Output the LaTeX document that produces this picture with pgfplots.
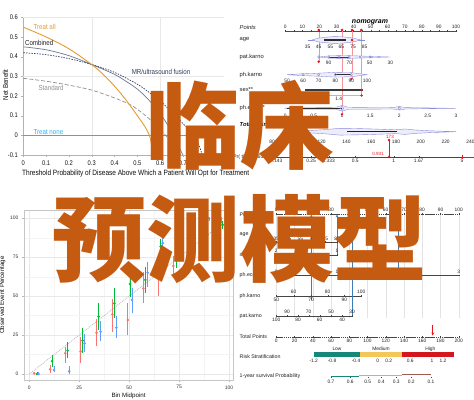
\documentclass[border=0pt]{standalone}
\usepackage{pgfplots}
\pgfplotsset{compat=1.18}
\usepackage{fontspec}
\setmainfont{Liberation Sans}
\newfontfamily\cond{Liberation Sans}[FakeStretch=0.85]
\newfontfamily\cjk{Noto Sans CJK SC}
\usetikzlibrary{arrows.meta}
\definecolor{tall}{HTML}{E39B2D}
\definecolor{comb}{HTML}{6B7894}
\definecolor{mrf}{HTML}{2E3C5E}
\definecolor{stdc}{HTML}{8F8F8F}
\definecolor{tnone}{HTML}{33B0E6}
\definecolor{cr}{HTML}{F8766D}
\definecolor{cg}{HTML}{00BA38}
\definecolor{cb}{HTML}{619CFF}
\definecolor{big}{HTML}{C55A11}
\definecolor{vio}{HTML}{8A8AD6}
\definecolor{viof}{HTML}{ECECFA}
\definecolor{redn}{HTML}{E8141E}
\definecolor{steel}{HTML}{3D7DB8}
\definecolor{rteal}{HTML}{17877A}
\definecolor{ryel}{HTML}{F3C75A}
\definecolor{rred}{HTML}{D4161E}
\definecolor{sbrown}{HTML}{9E5B50}
\begin{document}
\begin{tikzpicture}[x=1bp,y=1bp]
\path[use as bounding box] (0,0) rectangle (474,399);
% ---------------- Panel 1: decision curve ----------------
\begin{axis}[
  at={(23.3bp,244bp)}, anchor=south west, scale only axis,
  width=200.7bp, height=137.7bp,
  xmin=0, xmax=0.88, ymin=-0.1, ymax=0.6,
  axis lines=left, axis line style={gray!60,-},
  xtick={0,0.1,0.2,0.3,0.4,0.5,0.6,0.7,0.8},
  xticklabels={0,0.1,0.2,0.3,0.4,0.5,0.6,0.7,0.8},
  ytick={-0.1,0,0.1,0.2,0.3,0.4,0.5,0.6},
  yticklabels={-0.1,0,0.1,0.2,0.3,0.4,0.5,0.6},
  extra x ticks={0.3,0.6}, extra x tick labels={},
  extra y ticks={0.3,0.6}, extra y tick labels={},
  extra tick style={grid=major, major grid style={gray!18}, major tick length=0pt},
  tick style={gray!60}, major tick length=2bp, tick align=outside,
  ticklabel style={font=\cond\fontsize{6.8}{7}\selectfont, text=gray!15!black},
  clip=false,
]
\addplot[tnone, line width=0.9bp] coordinates {(0,0)(0.88,0)};
\addplot[stdc, line width=0.7bp, dash pattern=on 4bp off 2bp, smooth] coordinates {(0,0.29)(0.1,0.275)(0.2,0.255)(0.3,0.23)(0.4,0.19)(0.47,0.155)(0.52,0.115)(0.57,0.065)(0.62,0.005)(0.66,-0.05)(0.69,-0.1)};
\addplot[comb, line width=0.7bp, smooth] coordinates {(0,0.45)(0.1,0.435)(0.2,0.405)(0.3,0.36)(0.4,0.31)(0.45,0.275)(0.5,0.235)(0.55,0.18)(0.6,0.11)(0.64,0.04)(0.67,-0.03)(0.70,-0.1)};
\addplot[mrf, line width=0.7bp, dash pattern=on 1.5bp off 1.2bp, smooth] coordinates {(0,0.42)(0.1,0.41)(0.2,0.39)(0.3,0.36)(0.4,0.32)(0.5,0.26)(0.55,0.22)(0.6,0.175)(0.65,0.12)(0.7,0.06)(0.75,0.0)(0.77,-0.05)(0.785,-0.1)};
\addplot[tall, line width=0.9bp, smooth] coordinates {(0,0.55)(0.1,0.5)(0.2,0.44)(0.3,0.36)(0.35,0.31)(0.4,0.25)(0.45,0.18)(0.5,0.10)(0.53,0.05)(0.553,0)(0.563,-0.05)(0.57,-0.1)};
\node[anchor=west, font=\cond\fontsize{7.3}{8}\selectfont, text=tall, inner sep=0] at (axis cs:0.044,0.553) {Treat all};
\node[anchor=west, font=\cond\fontsize{7.3}{8}\selectfont, text=gray!25!black, inner sep=0] at (axis cs:0.007,0.468) {Combined};
\node[anchor=west, font=\cond\fontsize{7.3}{8}\selectfont, text=mrf, inner sep=0] at (axis cs:0.475,0.324) {MR/ultrasound fusion};
\node[anchor=west, font=\cond\fontsize{7.3}{8}\selectfont, text=stdc, inner sep=0] at (axis cs:0.066,0.243) {Standard};
\node[anchor=west, font=\cond\fontsize{7.3}{8}\selectfont, text=tnone, inner sep=0] at (axis cs:0.044,0.019) {Treat none};
\end{axis}
\node[anchor=west, font=\cond\fontsize{7.7}{8}\selectfont, text=gray!10!black, inner sep=0] at (22,225.7) {Threshold Probability of Disease Above Which a Patient Will Opt for Treatment};
\node[rotate=90, font=\cond\fontsize{7.3}{8}\selectfont, text=gray!10!black, inner sep=0] at (5.5,314) {Net Benefit};
% ---------------- Panel 3: calibration ----------------
\begin{axis}[
  at={(24bp,19bp)}, anchor=south west, scale only axis,
  width=209bp, height=170bp,
  xmin=-2.65, xmax=102, ymin=-3.85, ymax=105.3,
  xtick={0,25,50,75,100}, ytick={0,25,50,75,100},
  minor xtick={12.5,37.5,62.5,87.5}, minor ytick={12.5,37.5,62.5,87.5},
  grid=both, major grid style={gray!18, line width=0.4bp}, minor grid style={gray!9, line width=0.3bp},
  axis line style={gray!45}, tick style={gray!55}, major tick length=2bp, minor tick length=0pt,
  tick align=outside, tick pos=left,
  /pgf/number format/assume math mode=true,
  ticklabel style={font=\fontsize{5}{6}\selectfont, text=gray!40!black},
  xlabel={Bin Midpoint}, ylabel={Observed Event Percentage},
  label style={font=\fontsize{6.2}{7}\selectfont, text=gray!10!black},
  xlabel style={yshift=3bp}, ylabel style={yshift=-2bp},
]
\addplot[gray!50, densely dotted, line width=0.9bp] coordinates {(0,0)(100,100)};
\addplot[only marks, mark=*, mark size=1.1bp, cr, error bars/.cd, y dir=both, y explicit, error bar style={line width=0.6bp, cr}, error mark=none]
 table[x=x, y=y, y error plus=ep, y error minus=em] {
x y ep em
2.4 0.4 1.1 0.4
10.4 3 2.5 2.5
18 13.3 4.2 6
25.7 14.5 9.5 7.5
33.7 26.5 8.5 8.5
41.6 38.3 9.7 11.3
49.3 34.7 10.9 9.7
57.1 55 10.7 9.6
64.8 60.8 8.2 10.8
72.1 69.4 6.6 7.4
80.5 88 5 6
88 91.4 3.6 5.4
96 100 0 3
};
\addplot[only marks, mark=*, mark size=1.1bp, cg, error bars/.cd, y dir=both, y explicit, error bar style={line width=0.6bp, cg}, error mark=none]
 table[x=x, y=y, y error plus=ep, y error minus=em] {
x y ep em
3.9 0 1 0
11.4 8.3 3.9 4
19.2 15 5.7 5
26.7 21.4 7.9 8.1
34.7 36.8 9 8.5
42.6 45.4 9.6 9.6
50.4 57.8 6.9 8.1
58.1 60.4 8.5 8.6
65.8 81.8 5.2 6.8
73.5 74.3 4.7 6.3
89.1 89.3 3.2 4.3
96.8 95.7 2.3 2.7
};
\addplot[only marks, mark=*, mark size=1.1bp, cb, error bars/.cd, y dir=both, y explicit, error bar style={line width=0.6bp, cb}, error mark=none]
 table[x=x, y=y, y error plus=ep, y error minus=em] {
x y ep em
4.6 0 1 0
12.4 2.6 2.4 1.4
20 1.7 3.3 1.7
27.7 19.7 6.3 5.7
35.7 27.2 6.8 6.2
43.6 29.8 7.2 6.8
51.4 47.5 7.5 8.5
59.3 65 7 9
66.8 84 5 6
74.5 80 6 6
82.6 98.5 1.5 3.5
90 100 0 2
};
\end{axis}
% ---------------- Right half: nomograms ----------------
\begin{axis}[
  at={(237bp,0bp)}, anchor=south west, scale only axis,
  width=237bp, height=399bp,
  xmin=237, xmax=474, ymin=-399, ymax=0,
  axis lines=none, clip=false,
  lab/.style={draw=none, nodes near coords, point meta=explicit symbolic,
    nodes near coords style={font=\fontsize{4.9}{5}\selectfont, anchor=center, inner sep=0pt, text=gray!25!black}},
  labr/.style={draw=none, nodes near coords, point meta=explicit symbolic,
    nodes near coords style={font=\fontsize{4.6}{5}\selectfont, anchor=center, inner sep=0pt, text=redn}},
  tk/.style={only marks, mark=|, mark size=1.1bp, gray!50!black, mark options={line width=0.35bp}},
]
% ===== top nomogram =====
\node[font=\bfseries\itshape\fontsize{7}{8}\selectfont, inner sep=0] at (axis cs:370,-22.5) {nomogram};
\node[anchor=west, font=\itshape\fontsize{5.8}{6}\selectfont, text=gray!25!black, inner sep=0] at (axis cs:239.5,-27.5) {Points};
\node[anchor=west, font=\fontsize{5.8}{6}\selectfont, text=gray!25!black, inner sep=0] at (axis cs:239.5,-40) {age};
\node[anchor=west, font=\fontsize{5.8}{6}\selectfont, text=gray!25!black, inner sep=0] at (axis cs:239.5,-57) {pat.karno};
\node[anchor=west, font=\fontsize{5.8}{6}\selectfont, text=gray!25!black, inner sep=0] at (axis cs:239.5,-74.7) {ph.karno};
\node[anchor=west, font=\fontsize{5.8}{6}\selectfont, text=gray!25!black, inner sep=0] at (axis cs:239.5,-90) {sex**};
\node[anchor=west, font=\fontsize{5.8}{6}\selectfont, text=gray!25!black, inner sep=0] at (axis cs:239.5,-108.3) {ph.ecog**};
\node[anchor=west, font=\bfseries\itshape\fontsize{5.8}{6}\selectfont, text=gray!10!black, inner sep=0] at (axis cs:239.5,-125) {Total points};
\node[anchor=west, font=\fontsize{5.3}{6}\selectfont, text=gray!25!black, inner sep=0] at (axis cs:233,-157) {Pr( time<365 )};
% points axis
\addplot[gray!60!black, line width=0.35bp] coordinates {(285.3,-31)(456,-31)};
\addplot[tk] coordinates {(285.3,-31)(302.4,-31)(319.4,-31)(336.5,-31)(353.6,-31)(370.7,-31)(387.7,-31)(404.8,-31)(421.9,-31)(438.9,-31)(456,-31)};
\addplot[tk, mark size=0.6bp] coordinates {(293.8,-31)(310.9,-31)(328,-31)(345,-31)(362.1,-31)(379.2,-31)(396.3,-31)(413.3,-31)(430.4,-31)(447.5,-31)};
\addplot[lab] coordinates {(285.3,-27.2)[0] (302.4,-27.2)[10] (319.4,-27.2)[20] (336.5,-27.2)[30] (353.6,-27.2)[40] (370.7,-27.2)[50] (387.7,-27.2)[60] (404.8,-27.2)[70] (421.9,-27.2)[80] (438.9,-27.2)[90] (456,-27.2)[100]};
% pink guide lines
\addplot[redn!45, line width=0.35bp] coordinates {(318.7,-29)(318.7,-61.7)};
\addplot[redn!45, line width=0.35bp] coordinates {(342,-29)(342,-115)};
\addplot[redn!45, line width=0.35bp] coordinates {(352,-29)(352,-79)};
\addplot[redn!45, line width=0.35bp] coordinates {(361.3,-29)(361.3,-96)};
\addplot[only marks, mark=*, mark size=1.1bp, redn] coordinates {(318.7,-30)(342,-30)(352,-30)(361.3,-30)};
% age
\addplot[vio, line width=0.35bp] coordinates {(307.7,-40)(364.7,-40)};
\addplot[vio, fill=viof, line width=0.4bp] coordinates {(312,-40)(318,-38.2)(326,-37.2)(334,-36.6)(342,-36.8)(350,-37.6)(356,-38.8)(361,-40)(356,-41.2)(350,-42.4)(342,-43.2)(334,-43.4)(326,-42.8)(318,-41.8)} --cycle;
\addplot[gray!35!black, line width=1.1bp] coordinates {(324,-40)(346,-40)};
\addplot[lab] coordinates {(307.7,-46.7)[35] (318.7,-46.7)[45] (330.3,-46.7)[55] (341.3,-46.7)[65] (353,-46.7)[75] (364.7,-46.7)[85]};
\addplot[only marks, mark=*, mark size=1bp, redn] coordinates {(352,-40)};
% pat.karno
\addplot[vio, fill=viof, line width=0.35bp] coordinates {(318.7,-57)(330,-55.8)(345,-55.5)(360,-56)(375,-56.5)(390.3,-57)(375,-57.5)(360,-58)(345,-58.5)(330,-58.2)} --cycle;
\addplot[gray!45!black, line width=0.6bp] coordinates {(328.7,-57)(349.3,-57)};
\addplot[only marks, mark=diamond, mark size=1.3bp, vio] coordinates {(318.7,-57)(328.7,-57)(339,-57)(349.3,-57)(360,-57)(370,-57)};
\addplot[lab] coordinates {(328.7,-63.3)[90] (349.3,-63.3)[70] (369.7,-63.3)[50] (390.3,-63.3)[30]};
\addplot[only marks, mark=*, mark size=1bp, redn] coordinates {(318.7,-61.7)};
% ph.karno
\addplot[vio, fill=viof, line width=0.35bp] coordinates {(287,-74.7)(300,-73.9)(318.7,-73.2)(335,-72.3)(351,-72.6)(360,-73.8)(367,-74.7)(360,-75.6)(351,-76.8)(335,-77.1)(318.7,-76.2)(300,-75.5)} --cycle;
\addplot[gray!35!black, line width=1bp] coordinates {(335.3,-74.7)(351.3,-74.7)};
\addplot[only marks, mark=diamond, mark size=1.4bp, vio] coordinates {(303,-74.7)(318.7,-74.7)(335.3,-74.7)(351.3,-74.7)};
\addplot[lab] coordinates {(287,-81)[50] (303,-81)[60] (318.7,-81)[70] (335.3,-81)[80] (351.3,-81)[90] (367,-81)[100]};
\addplot[only marks, mark=*, mark size=1bp, redn] coordinates {(351.3,-79)};
% sex
\addplot[gray!45!black, line width=1.1bp] coordinates {(305.3,-90)(361.7,-90)};
\addplot[tk, mark size=1.3bp] coordinates {(305.3,-90)(361.7,-90)};
\addplot[gray!55, line width=0.35bp] coordinates {(305.3,-95.5)(361.7,-95.5)};
\addplot[lab] coordinates {(338.7,-99)[1.4]};
\addplot[only marks, mark=*, mark size=1bp, redn] coordinates {(361.7,-90)(361.7,-95.5)};
% ph.ecog
\addplot[vio, fill=viof, line width=0.35bp] coordinates {(285.3,-108.3)(290,-107.6)(336,-107.3)(342,-105.4)(348,-107.3)(393,-107.6)(399.3,-106.5)(405.6,-107.6)(456,-108.3)(405.6,-109)(399.3,-110.1)(393,-109)(348,-109.3)(342,-111.2)(336,-109.3)(290,-109)} --cycle;
\addplot[gray!35!black, line width=0.9bp] coordinates {(287,-108.3)(342,-108.3)};
\addplot[only marks, mark=diamond, mark size=2.2bp, vio] coordinates {(342,-108.3)};
\addplot[only marks, mark=diamond, mark size=1.6bp, vio] coordinates {(399.3,-108.3)};
\addplot[lab] coordinates {(285.3,-116)[0] (313.7,-116)[0.5] (342,-116)[1] (370.3,-116)[1.5] (399.3,-116)[2] (427.7,-116)[2.5] (456,-116)[3]};
\addplot[only marks, mark=*, mark size=1bp, redn] coordinates {(342,-114.3)};
% total points
\addplot[vio, fill=viof, line width=0.4bp] coordinates {(300,-131.7)(310,-130.5)(325,-129.6)(340,-128.3)(355,-128.5)(370,-128.9)(385,-129.4)(395,-129.8)(405,-129)(415,-130)(430,-130.8)(456,-131.7)(430,-132.6)(415,-133.4)(405,-134.4)(395,-133.6)(385,-134)(370,-134.5)(355,-134.9)(340,-135.1)(325,-133.8)(310,-132.9)} --cycle;
\addplot[gray!25!black, line width=1.1bp] coordinates {(347,-131.7)(397,-131.7)};
\addplot[lab] coordinates {(272,-142.3)[80] (296.8,-142.3)[100] (321.6,-142.3)[120] (346.4,-142.3)[140] (371.2,-142.3)[160] (396,-142.3)[180] (420.8,-142.3)[200] (445.6,-142.3)[220] (470.4,-142.3)[240]};
\addplot[redn, line width=0.45bp] coordinates {(389,-140)(389,-157)};
\addplot[only marks, mark=*, mark size=1.2bp, redn] coordinates {(389,-140)(389,-157)};
\addplot[labr] coordinates {(390,-136.6)[173] (378,-154)[0.931]};
% Pr row
\addplot[gray!55!black, line width=0.35bp] coordinates {(276.3,-157.3)(462,-157.3)};
\addplot[tk, mark size=0.9bp] coordinates {(276.3,-157.3)(298.7,-157.3)(311,-157.3)(328.7,-157.3)(355.3,-157.3)(393.7,-157.3)(418.7,-157.3)(462,-157.3)};
\addplot[lab] coordinates {(276.3,-160.8)[0.143] (298.7,-160.8)[0.2] (311,-160.8)[0.25] (328.7,-160.8)[0.333] (355.3,-160.8)[0.5] (393.7,-160.8)[1] (418.7,-160.8)[1.67] (462,-160.8)[5]};
\addplot[redn, line width=0.7bp] coordinates {(462,-157.3)(474,-157.3)};
\addplot[only marks, mark=|, mark size=2bp, redn, mark options={line width=0.6bp}] coordinates {(462,-157.3)};
% ===== bottom nomogram =====
\addplot[gray!22, line width=0.35bp, unbounded coords=jump] coordinates {(276.3,-214)(276.3,-318)(276.3,nan)(294.5,-214)(294.5,-318)(294.5,nan)(312.8,-214)(312.8,-318)(312.8,nan)(331,-214)(331,-318)(331,nan)(349.3,-214)(349.3,-318)(349.3,nan)(367.5,-214)(367.5,-318)(367.5,nan)(385.7,-214)(385.7,-318)(385.7,nan)(404,-214)(404,-318)(404,nan)(422.2,-214)(422.2,-318)(422.2,nan)(440.5,-214)(440.5,-318)(440.5,nan)(458.7,-214)(458.7,-318)};
\node[anchor=west, font=\fontsize{5.3}{6}\selectfont, text=gray!25!black, inner sep=0] at (axis cs:239.5,-215) {Points};
\node[anchor=west, font=\fontsize{5.3}{6}\selectfont, text=gray!25!black, inner sep=0] at (axis cs:239.5,-234.3) {age};
\node[anchor=west, font=\fontsize{5.3}{6}\selectfont, text=gray!25!black, inner sep=0] at (axis cs:239.5,-255) {sex};
\node[anchor=west, font=\fontsize{5.3}{6}\selectfont, text=gray!25!black, inner sep=0] at (axis cs:239.5,-275) {ph.ecog};
\node[anchor=west, font=\fontsize{5.3}{6}\selectfont, text=gray!25!black, inner sep=0] at (axis cs:239.5,-295.7) {ph.karno};
\node[anchor=west, font=\fontsize{5.3}{6}\selectfont, text=gray!25!black, inner sep=0] at (axis cs:239.5,-316) {pat.karno};
\node[anchor=west, font=\fontsize{5.3}{6}\selectfont, text=gray!25!black, inner sep=0] at (axis cs:239.5,-336.7) {Total Points};
\node[anchor=west, font=\fontsize{5.3}{6}\selectfont, text=gray!25!black, inner sep=0] at (axis cs:239.5,-356.7) {Risk Stratification};
\node[anchor=west, font=\fontsize{5.3}{6}\selectfont, text=gray!25!black, inner sep=0] at (axis cs:239.5,-376) {1-year survival Probability};
% points
\addplot[gray!55!black, line width=0.35bp, dash pattern=on 1.4bp off 0.5bp] coordinates {(276.3,-214)(458.7,-214)};
\addplot[tk, mark size=1.1bp] coordinates {(276.3,-214)(294.5,-214)(312.8,-214)(331,-214)(349.3,-214)(367.5,-214)(385.7,-214)(404,-214)(422.2,-214)(440.5,-214)(458.7,-214)};
\addplot[lab] coordinates {(276.3,-210)[0] (294.5,-210)[10] (312.8,-210)[20] (331,-210)[30] (349.3,-210)[40] (367.5,-210)[50] (385.7,-210)[60] (404,-210)[70] (422.2,-210)[80] (440.5,-210)[90] (458.7,-210)[100]};
% age
\addplot[gray!55!black, line width=0.35bp] coordinates {(276.3,-242.3)(337,-242.3)};
\addplot[tk, mark size=0.9bp] coordinates {(276.3,-242.3)(288.7,-242.3)(300.3,-242.3)(313,-242.3)(325.3,-242.3)(337,-242.3)};
\addplot[lab] coordinates {(276.3,-238.4)[35] (288.7,-238.4)[45] (300.3,-238.4)[55] (313,-238.4)[65] (325.3,-238.4)[75] (337,-238.4)[85]};
% sex
\addplot[gray!55!black, line width=0.35bp] coordinates {(276.3,-255)(337,-255)};
\addplot[tk, mark size=0.9bp] coordinates {(276.3,-255)(337,-255)};
\addplot[lab] coordinates {(276.3,-251.2)[2] (337,-251.2)[1]};
% ph.ecog
\addplot[gray!55!black, line width=0.35bp] coordinates {(276.3,-275.5)(458.7,-275.5)};
\addplot[tk, mark size=0.9bp] coordinates {(276.3,-275.5)(337,-275.5)(397.5,-275.5)(458.7,-275.5)};
\addplot[lab] coordinates {(276.3,-271.6)[0] (337,-271.6)[1] (397.5,-271.6)[2] (458.7,-271.6)[3]};
% ph.karno
\addplot[gray!55!black, line width=0.35bp] coordinates {(276.3,-295.7)(361.3,-295.7)};
\addplot[tk, mark size=0.9bp] coordinates {(276.3,-295.7)(293.7,-295.7)(311,-295.7)(327.7,-295.7)(344.3,-295.7)(361.3,-295.7)};
\addplot[lab] coordinates {(293.7,-291.8)[60] (327.7,-291.8)[80] (361.3,-291.8)[100] (276.3,-299.8)[50] (311,-299.8)[70] (344.3,-299.8)[90]};
% pat.karno
\addplot[gray!55!black, line width=0.35bp] coordinates {(276.3,-316)(352,-316)};
\addplot[tk, mark size=0.9bp] coordinates {(276.3,-316)(287,-316)(298,-316)(308.7,-316)(319.7,-316)(331,-316)(342,-316)(352,-316)};
\addplot[lab] coordinates {(287,-312.1)[90] (308.7,-312.1)[70] (331,-312.1)[50] (352,-312.1)[30] (276.3,-320.1)[100] (298,-320.1)[80] (319.7,-320.1)[60] (342,-320.1)[40]};
% blue arrows
\addplot[steel, line width=0.8bp, -{Stealth[length=3bp,width=2.5bp]}] coordinates {(311.3,-300)(311.3,-214.5)};
\addplot[steel, line width=0.8bp, -{Stealth[length=3bp,width=2.5bp]}] coordinates {(337,-255)(337,-214.5)};
\addplot[steel, line width=0.8bp, -{Stealth[length=3bp,width=2.5bp]}] coordinates {(352,-316)(352,-214.5)};
\addplot[steel, line width=0.8bp, -{Stealth[length=3bp,width=2.5bp]}] coordinates {(398,-275.5)(398,-214.5)};
% total points
\addplot[gray!55!black, line width=0.35bp, dash pattern=on 1.4bp off 0.5bp] coordinates {(276.3,-336.7)(458.7,-336.7)};
\addplot[tk, mark size=0.9bp] coordinates {(276.3,-336.7)(294.5,-336.7)(312.8,-336.7)(331,-336.7)(349.3,-336.7)(367.5,-336.7)(385.7,-336.7)(404,-336.7)(422.2,-336.7)(440.5,-336.7)(458.7,-336.7)};
\addplot[lab] coordinates {(276.3,-341.3)[0] (294.5,-341.3)[20] (312.8,-341.3)[40] (331,-341.3)[60] (349.3,-341.3)[80] (367.5,-341.3)[100] (385.7,-341.3)[120] (404,-341.3)[140] (422.2,-341.3)[160] (440.5,-341.3)[180] (458.7,-341.3)[200]};
\addplot[redn, line width=0.8bp, -{Stealth[length=3bp,width=2.8bp]}] coordinates {(432.7,-325)(432.7,-335.5)};
% risk stratification
\addplot[draw=none, fill=rteal] coordinates {(313.7,-352.4)(359.7,-352.4)(359.7,-356.6)(313.7,-356.6)} --cycle;
\addplot[draw=none, fill=ryel] coordinates {(359.7,-352.4)(402,-352.4)(402,-356.6)(359.7,-356.6)} --cycle;
\addplot[draw=none, fill=rred] coordinates {(402,-352.4)(453.7,-352.4)(453.7,-356.6)(402,-356.6)} --cycle;
\addplot[lab] coordinates {(337,-348.8)[Low] (381,-348.8)[Medium] (430.3,-348.8)[High]};
\addplot[lab] coordinates {(313.7,-361.2)[-1.2] (332,-361.2)[-0.8] (356,-361.2)[-0.4] (377.7,-361.2)[0] (388.7,-361.2)[0.2] (410.3,-361.2)[0.6] (432,-361.2)[1] (443,-361.2)[1.2]};
% survival
\addplot[rteal, line width=0.9bp] coordinates {(331,-376.2)(359,-376.2)};
\addplot[gray!60, line width=0.9bp] coordinates {(359,-375.4)(402,-375.4)};
\addplot[sbrown, line width=0.9bp] coordinates {(402,-374.6)(431.3,-374.6)};
\addplot[tk, mark size=0.8bp] coordinates {(331,-377.5)(350.3,-377.5)(367.7,-377.5)(381.3,-377.5)(396.3,-377.5)(411.3,-377.5)(431,-377.5)};
\addplot[lab] coordinates {(331,-381.7)[0.7] (350.3,-381.7)[0.6] (367.7,-381.7)[0.5] (381.3,-381.7)[0.4] (396.3,-381.7)[0.3] (411.3,-381.7)[0.2] (431,-381.7)[0.1]};
\end{axis}
% ---------------- Overlay title text ----------------
\node[font=\cjk\bfseries\fontsize{94}{94}\selectfont, text=big, inner sep=0] at (240,274) {临床};
\node[font=\cjk\bfseries\fontsize{94}{94}\selectfont, text=big, inner sep=0] at (240,159.5) {预测模型};
\end{tikzpicture}
\end{document}
